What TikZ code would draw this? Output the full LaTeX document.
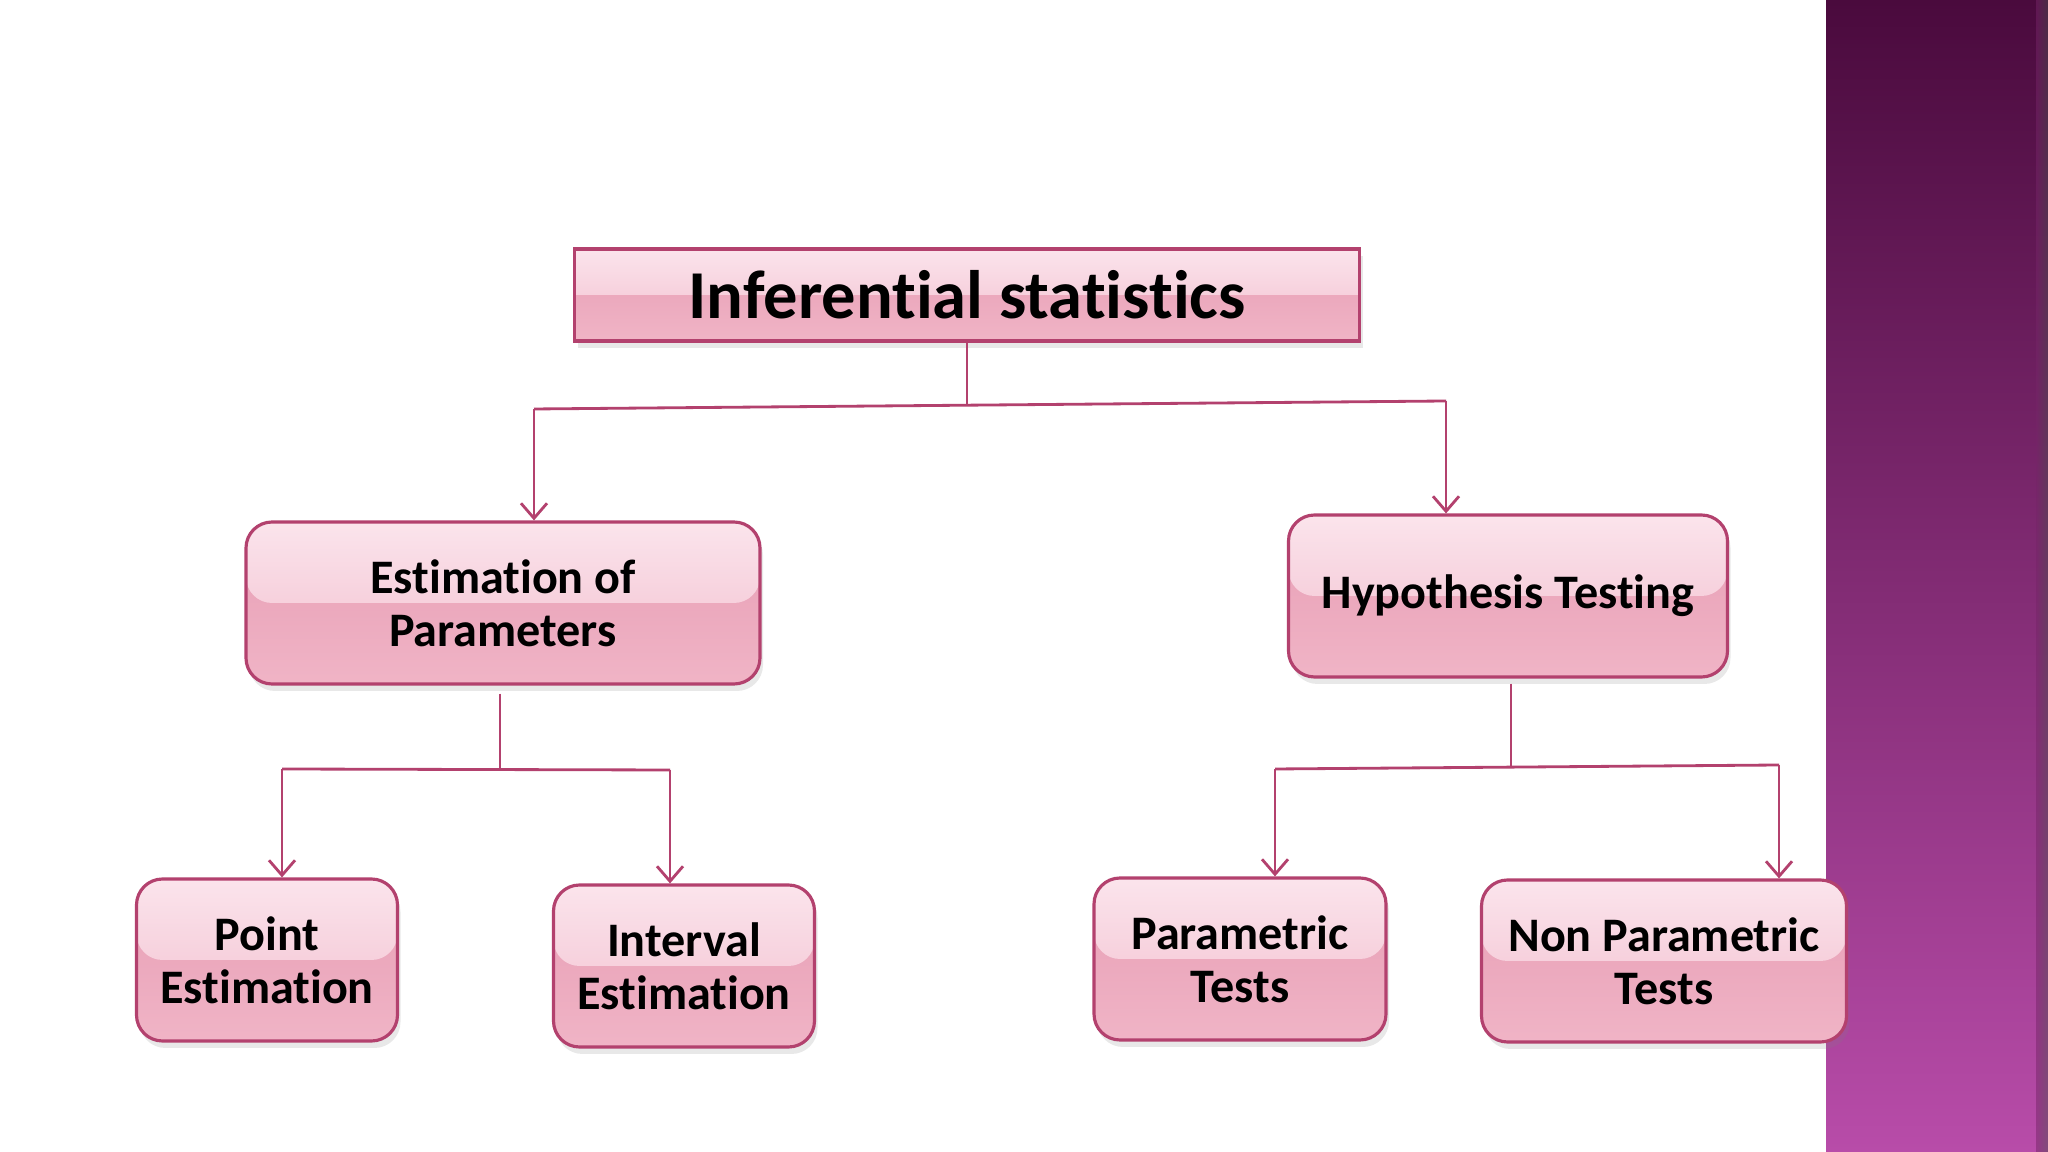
\documentclass[tikz,border=0pt]{standalone}
\usepackage{fontspec}
\setmainfont{Carlito}[Ligatures=NoCommon]
\usetikzlibrary{arrows.meta,shadows}
\definecolor{linepink}{HTML}{B3416E}
\definecolor{glosstop}{HTML}{FBE4EC}
\definecolor{glossmid}{HTML}{F2BDCD}
\definecolor{glosslow}{HTML}{E79DB4}
\definecolor{glossbot}{HTML}{F0B4C6}
\definecolor{bandtop}{HTML}{4A0A3D}
\definecolor{bandbot}{HTML}{B84CA9}
\tikzset{
  glossy/.style={draw=linepink, line width=0.9pt, align=center, inner sep=0pt,
    top color=glosslow, bottom color=glossbot,
    drop shadow={shadow xshift=0.3mm, shadow yshift=-0.7mm, opacity=0.18},
    path picture={\shade[top color=glosstop, bottom color=glossmid]
      (path picture bounding box.north west) rectangle (path picture bounding box.east);}},
  box/.style={glossy, rounded corners=2.6mm, minimum width=#1, minimum height=16.2mm,
    font=\fontsize{13.7}{15}\selectfont\bfseries},
  titlebox/.style={glossy, minimum width=78.5mm, minimum height=9.2mm,
    font=\fontsize{19.5}{20}\selectfont\bfseries},
  link/.style={draw=linepink, line width=0.8pt}
}
\begin{document}
\begin{tikzpicture}[x=0.1mm, y=-0.1mm, >={Straight Barb[length=1.5mm,width=2.6mm]}]
\useasboundingbox (0,0) rectangle (2048,1152);
\fill[white] (0,0) rectangle (2048,1152);
% side band
\shade[top color=bandtop, bottom color=bandbot] (1826,0) rectangle (2048,1152);
\shade[left color=bandtop!60!bandbot, right color=black!70, opacity=0.5] (2036,0) rectangle (2048,1152);

% boxes
\node[titlebox] (infer) at (967,295) {Inferential statistics};
\node[box=51.4mm] (est) at (503,603) {Estimation of\\Parameters};
\node[box=43.9mm] (hyp) at (1508,596) {Hypothesis Testing};
\node[box=26.1mm] (point) at (267,960) {Point\\Estimation};
\node[box=26.1mm] (inter) at (684,966) {Interval\\Estimation};
\node[box=29.2mm] (param) at (1240,959) {Parametric\\Tests};
\node[box=36.5mm] (nonpar) at (1664,961) {Non Parametric\\Tests};

% branch points
\coordinate (tm) at (967,405);
\coordinate (tl) at (534,409);
\coordinate (tr) at (1446,401);
\coordinate (em) at (500,770);
\coordinate (el) at (282,769);
\coordinate (er) at (670,770);
\coordinate (hm) at (1511,767);
\coordinate (hl) at (1275,769);
\coordinate (hr) at (1779,765);

\draw[link] (infer.south -| tm) -- (tm);
\draw[link] (tl) -- (tr);
\draw[link,->] (tl) -- (tl |- est.north);
\draw[link,->] (tr) -- (tr |- hyp.north);

\draw[link] (est.south -| em) ++(0,8) -- (em);
\draw[link] (el) -- (er);
\draw[link,->] (el) -- (el |- point.north);
\draw[link,->] (er) -- (er |- inter.north);

\draw[link] (hyp.south -| hm) ++(0,5) -- (hm);
\draw[link] (hl) -- (hr);
\draw[link,->] (hl) -- (hl |- param.north);
\draw[link,->] (hr) -- (hr |- nonpar.north);
\end{tikzpicture}
\end{document}
